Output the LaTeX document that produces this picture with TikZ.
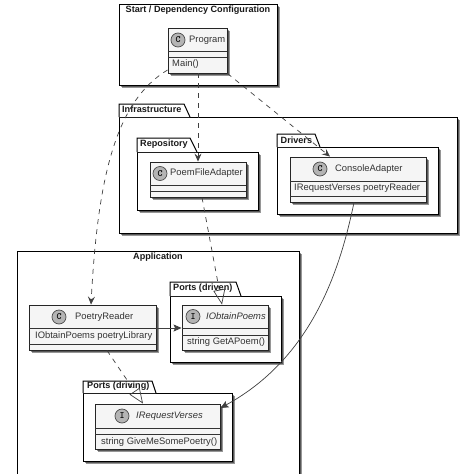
\documentclass[tikz,border=0pt]{standalone}
\usepackage{fontspec}
\setmainfont{Liberation Sans}
\usetikzlibrary{arrows.meta}
\usetikzlibrary{shadows}
\definecolor{boxfill}{HTML}{F5F5F5}
\definecolor{badgefill}{HTML}{B4B4B4}
\tikzset{
  softshadow/.style={
    drop shadow={shadow xshift=3.4pt, shadow yshift=-3.4pt, fill=black, opacity=.18},
    drop shadow={shadow xshift=2.6pt, shadow yshift=-2.6pt, fill=black, opacity=.28},
    drop shadow={shadow xshift=1.8pt, shadow yshift=-1.8pt, fill=black, opacity=.42}},
  pkg/.style={draw=black, line width=1pt, fill=white, softshadow},
  pkgtab/.style={draw=black, line width=1pt, fill=white},
  pkglabel/.style={font=\bfseries\fontsize{9.1}{11}\selectfont, text=black!90, inner sep=0pt},
  classbox/.style={draw=black!85, line width=0.9pt, fill=boxfill, inner sep=0pt, softshadow},
  badge/.style={circle, draw=black!70, line width=0.7pt, fill=badgefill, minimum size=14pt, inner sep=0pt, font=\bfseries\ttfamily\fontsize{9.5}{11}\selectfont},
  member/.style={font=\fontsize{9.4}{11}\selectfont, text=black!80, inner sep=0pt},
  iface/.style={member, font=\itshape\fontsize{9.4}{11}\selectfont},
  link/.style={draw=black!75, line width=0.7pt},
  dep/.style={link, dash pattern=on 5pt off 5pt, -{Stealth[length=8pt,width=7pt,inset=3pt]}},
  assoc/.style={link, -{Stealth[length=8pt,width=7pt,inset=1.5pt]}},
  realize/.style={link, dash pattern=on 5pt off 5pt, -{Triangle[open,length=15pt,width=12pt,fill=none]}}
}
\begin{document}
\begin{tikzpicture}[x=1pt,y=-1pt]
    \useasboundingbox (0,0) rectangle (474,474);
    % outer frames
    \node[pkg, minimum width=158pt, minimum height=81pt] (startfrm) at (198,44.5) {};
    \node[pkglabel] (startlbl) at (198,10) {Start / Dependency Configuration};
    \draw[pkg] (119,117) rectangle (457,233);
    \draw[pkgtab] (119,117) -- (119,104) -- (184,104) -- (190,117);
    \node[pkglabel, anchor=west] (infralbl) at (122,109.5) {Infrastructure};
    \draw[pkg] (137,152) rectangle (258,210);
    \draw[pkgtab] (137,152) -- (137,138) -- (190,138) -- (197,152);
    \node[pkglabel, anchor=west] (repolbl) at (140,144) {Repository};
    \draw[pkg] (277,147) rectangle (438,214);
    \draw[pkgtab] (277,147) -- (277,134) -- (315,134) -- (320,147);
    \node[pkglabel, anchor=west] (driverslbl) at (280.5,140) {Drivers};
    \draw[pkg] (17,251) rectangle (299,482);
    \node[pkglabel] (applbl) at (158,257) {Application};
    \draw[pkg] (170,296) rectangle (281,362);
    \draw[pkgtab] (170,296) -- (170,282) -- (236,282) -- (241,296);
    \node[pkglabel, anchor=west] (drivenlbl) at (173,288) {Ports (driven)};
    \draw[pkg] (83,393) rectangle (232,461);
    \draw[pkgtab] (83,393) -- (83,381) -- (152,381) -- (156,393);
    \node[pkglabel, anchor=west] (drivinglbl) at (87,386.5) {Ports (driving)};
    % classes
    \node[classbox, minimum width=59pt, minimum height=45pt] (program) at (197.5,50.5) {};
    \node[classbox, minimum width=96pt, minimum height=35pt] (poemfile) at (198,179.5) {};
    \node[classbox, minimum width=136pt, minimum height=45pt] (console) at (358,179.5) {};
    \node[classbox, minimum width=127pt, minimum height=45pt] (reader) at (92.5,327.5) {};
    \node[classbox, minimum width=86pt, minimum height=45pt] (obtain) at (225,327.5) {};
    \node[classbox, minimum width=125pt, minimum height=45pt] (request) at (157.5,426.5) {};
    % compartment lines
    \foreach \xa/\xb/\y in {168/227/51,168/227/57,150/246/185,150/246/191,290/426/181,290/426/196,29/156/328,29/156/344,182/268/328,182/268/335,95/220/428,95/220/434} {
        \draw[black!80, line width=0.7pt] (\xa,\y) -- (\xb,\y);
    }
    % badges and names
    \node[badge] (progbadge) at (178,40) {C};
    \node[member, anchor=west] (progname) at (189,40) {Program};
    \node[member, anchor=west] (progmain) at (172,64.5) {Main()};
    \node[badge] (filebadge) at (160,173.5) {C};
    \node[member, anchor=west] (filename) at (170,173.5) {PoemFileAdapter};
    \node[badge] (consbadge) at (320,169) {C};
    \node[member, anchor=west] (consname) at (335,169) {ConsoleAdapter};
    \node[member, anchor=west] (consattr) at (294,188.5) {IRequestVerses poetryReader};
    \node[badge] (readbadge) at (59,317) {C};
    \node[member, anchor=west] (readname) at (75,317) {PoetryReader};
    \node[member, anchor=west] (readattr) at (35,336) {IObtainPoems poetryLibrary};
    \node[badge] (obtbadge) at (193,316.5) {I};
    \node[iface, anchor=west] (obtname) at (206,316.5) {IObtainPoems};
    \node[member, anchor=west] (obtattr) at (187,342) {string GetAPoem()};
    \node[badge] (reqbadge) at (122,416) {I};
    \node[iface, anchor=west] (reqname) at (136,416) {IRequestVerses};
    \node[member, anchor=west] (reqattr) at (101,442) {string GiveMeSomePoetry()};
    % connectors
    \draw[dep] (program.west |- 0,70) .. controls (118,100) and (98,170) .. (reader.north -| 91,0);
    \draw[dep] (program.south -| 198,0) -- (poemfile.north -| 198,0);
    \draw[dep] (program.south east) -- (console.north -| 330,0);
    \draw[realize] (poemfile.south -| 202,0) -- (obtain.north -| 222,0);
    \draw[assoc] (reader.east |- 0,328) -- (obtain.west |- 0,328);
    \draw[realize] (reader.south -| 107,0) -- (request.north -| 143,0);
    \draw[assoc] (console.south -| 354,0) .. controls (340,270) and (312,358) .. (request.east |- 0,408);
\end{tikzpicture}
\end{document}
